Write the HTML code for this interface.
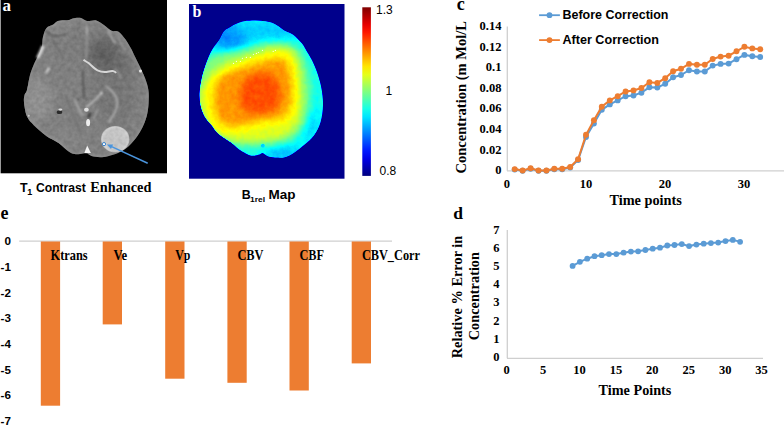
<!DOCTYPE html>
<html><head><meta charset="utf-8"><style>
html,body{margin:0;padding:0;background:#fff;width:784px;height:427px;overflow:hidden}
svg{display:block}
</style></head><body>
<svg width="784" height="427" viewBox="0 0 784 427">
<rect x="1" y="0" width="166" height="173.3" fill="#000"/>
<rect x="0" y="0" width="1" height="173.3" fill="#9a9a9a"/>
<defs><filter id="bl1" x="-20%" y="-20%" width="140%" height="140%"><feGaussianBlur stdDeviation="0.7"/></filter><filter id="bl12" x="-50%" y="-50%" width="200%" height="200%"><feGaussianBlur stdDeviation="1.1"/></filter><filter id="bl2" x="-50%" y="-50%" width="200%" height="200%"><feGaussianBlur stdDeviation="1.5"/></filter><filter id="bl3" x="-50%" y="-50%" width="200%" height="200%"><feGaussianBlur stdDeviation="3"/></filter><filter id="bl9" x="-50%" y="-50%" width="200%" height="200%"><feGaussianBlur stdDeviation="7"/></filter><filter id="bl6" x="-50%" y="-50%" width="200%" height="200%"><feGaussianBlur stdDeviation="5"/></filter><filter id="noise" filterUnits="userSpaceOnUse" x="20" y="15" width="132" height="145" color-interpolation-filters="sRGB"><feTurbulence type="fractalNoise" baseFrequency="0.22" numOctaves="2" seed="7"/><feColorMatrix type="matrix" values="1 0 0 0 0  1 0 0 0 0  1 0 0 0 0  0 0 0 0 1"/><feGaussianBlur stdDeviation="0.5"/></filter><clipPath id="brainclip"><path d="M27.0,90.0 C27.9,86.7 28.8,79.3 30.0,75.0 C31.2,70.7 32.5,67.6 34.0,64.0 C35.5,60.4 38.0,56.6 39.3,53.6 C40.6,50.6 41.4,48.3 42.0,45.7 C42.6,43.1 42.1,40.7 42.8,37.8 C43.5,34.9 44.5,30.4 46.3,28.2 C48.0,26.0 51.4,25.8 53.3,24.6 C55.2,23.4 55.9,21.8 57.7,21.1 C59.5,20.4 62.0,20.5 63.9,20.3 C65.8,20.1 67.5,20.4 69.0,20.1 C70.5,19.8 70.8,18.9 72.6,18.5 C74.4,18.1 77.6,17.4 80.0,17.8 C82.4,18.2 84.4,20.6 87.0,21.0 C89.6,21.4 92.9,19.6 95.8,20.3 C98.7,21.1 102.0,23.8 104.6,25.5 C107.2,27.2 109.3,29.8 111.6,30.8 C113.9,31.8 116.3,30.2 118.6,31.7 C120.9,33.2 123.5,36.8 125.6,39.6 C127.6,42.4 129.4,45.7 130.9,48.3 C132.4,50.9 133.0,52.5 134.4,55.4 C135.8,58.3 137.8,62.1 139.6,65.9 C141.4,69.7 143.5,74.0 145.0,78.0 C146.5,82.0 147.8,85.8 148.4,90.0 C149.0,94.2 148.8,99.0 148.6,103.0 C148.4,107.0 147.9,110.8 147.2,114.0 C146.5,117.2 145.8,119.5 144.6,122.5 C143.4,125.5 141.8,128.9 140.0,132.0 C138.2,135.1 135.8,138.3 133.5,141.0 C131.2,143.7 129.1,146.0 126.5,148.0 C123.9,150.0 121.1,151.6 118.0,153.0 C114.9,154.4 111.0,155.5 108.0,156.2 C105.0,156.9 102.8,157.2 100.0,157.2 C97.2,157.2 93.6,156.6 91.5,156.0 C89.4,155.4 88.6,154.0 87.2,153.6 C85.8,153.2 84.9,153.4 83.0,153.5 C81.1,153.6 78.3,154.6 76.0,154.3 C73.7,154.0 71.9,153.6 69.0,151.7 C66.1,149.8 62.4,145.5 58.6,142.9 C54.8,140.3 50.4,138.8 46.3,135.9 C42.2,133.0 37.2,128.6 34.0,125.4 C30.8,122.2 28.7,120.4 27.0,116.6 C25.3,112.8 24.4,106.1 24.0,102.5 C23.6,98.9 24.1,97.1 24.6,95.0 C25.1,92.9 26.1,93.3 27.0,90.0Z"/></clipPath></defs>
<path d="M27.0,90.0 C27.9,86.7 28.8,79.3 30.0,75.0 C31.2,70.7 32.5,67.6 34.0,64.0 C35.5,60.4 38.0,56.6 39.3,53.6 C40.6,50.6 41.4,48.3 42.0,45.7 C42.6,43.1 42.1,40.7 42.8,37.8 C43.5,34.9 44.5,30.4 46.3,28.2 C48.0,26.0 51.4,25.8 53.3,24.6 C55.2,23.4 55.9,21.8 57.7,21.1 C59.5,20.4 62.0,20.5 63.9,20.3 C65.8,20.1 67.5,20.4 69.0,20.1 C70.5,19.8 70.8,18.9 72.6,18.5 C74.4,18.1 77.6,17.4 80.0,17.8 C82.4,18.2 84.4,20.6 87.0,21.0 C89.6,21.4 92.9,19.6 95.8,20.3 C98.7,21.1 102.0,23.8 104.6,25.5 C107.2,27.2 109.3,29.8 111.6,30.8 C113.9,31.8 116.3,30.2 118.6,31.7 C120.9,33.2 123.5,36.8 125.6,39.6 C127.6,42.4 129.4,45.7 130.9,48.3 C132.4,50.9 133.0,52.5 134.4,55.4 C135.8,58.3 137.8,62.1 139.6,65.9 C141.4,69.7 143.5,74.0 145.0,78.0 C146.5,82.0 147.8,85.8 148.4,90.0 C149.0,94.2 148.8,99.0 148.6,103.0 C148.4,107.0 147.9,110.8 147.2,114.0 C146.5,117.2 145.8,119.5 144.6,122.5 C143.4,125.5 141.8,128.9 140.0,132.0 C138.2,135.1 135.8,138.3 133.5,141.0 C131.2,143.7 129.1,146.0 126.5,148.0 C123.9,150.0 121.1,151.6 118.0,153.0 C114.9,154.4 111.0,155.5 108.0,156.2 C105.0,156.9 102.8,157.2 100.0,157.2 C97.2,157.2 93.6,156.6 91.5,156.0 C89.4,155.4 88.6,154.0 87.2,153.6 C85.8,153.2 84.9,153.4 83.0,153.5 C81.1,153.6 78.3,154.6 76.0,154.3 C73.7,154.0 71.9,153.6 69.0,151.7 C66.1,149.8 62.4,145.5 58.6,142.9 C54.8,140.3 50.4,138.8 46.3,135.9 C42.2,133.0 37.2,128.6 34.0,125.4 C30.8,122.2 28.7,120.4 27.0,116.6 C25.3,112.8 24.4,106.1 24.0,102.5 C23.6,98.9 24.1,97.1 24.6,95.0 C25.1,92.9 26.1,93.3 27.0,90.0Z" fill="#808080" filter="url(#bl1)"/>
<g clip-path="url(#brainclip)">
<g filter="url(#bl6)">
<ellipse cx="38" cy="100" rx="14" ry="22" fill="#929292"/>
<ellipse cx="138" cy="106" rx="8" ry="24" fill="#828282"/>
<ellipse cx="60" cy="140" rx="18" ry="8" fill="#878787"/>
<ellipse cx="60" cy="28" rx="8" ry="6" fill="#8c8c8c"/>
<ellipse cx="104" cy="100" rx="7" ry="10" fill="#7c7c7c"/>
</g>
<g filter="url(#bl9)">
<ellipse cx="115" cy="95" rx="20" ry="30" fill="#747474"/>
<ellipse cx="104" cy="54" rx="16" ry="17" fill="#5a5a5a"/>
<ellipse cx="124" cy="68" rx="9" ry="10" fill="#6a6a6a"/>
<ellipse cx="76" cy="45" rx="7" ry="12" fill="#787878"/>
</g>
<rect x="20" y="15" width="132" height="145" filter="url(#noise)" opacity="0.12"/>
<path d="M27.0,90.0 C27.9,86.7 28.8,79.3 30.0,75.0 C31.2,70.7 32.5,67.6 34.0,64.0 C35.5,60.4 38.0,56.6 39.3,53.6 C40.6,50.6 41.4,48.3 42.0,45.7 C42.6,43.1 42.1,40.7 42.8,37.8 C43.5,34.9 44.5,30.4 46.3,28.2 C48.0,26.0 51.4,25.8 53.3,24.6 C55.2,23.4 55.9,21.8 57.7,21.1 C59.5,20.4 62.0,20.5 63.9,20.3 C65.8,20.1 67.5,20.4 69.0,20.1 C70.5,19.8 70.8,18.9 72.6,18.5 C74.4,18.1 77.6,17.4 80.0,17.8 C82.4,18.2 84.4,20.6 87.0,21.0 C89.6,21.4 92.9,19.6 95.8,20.3 C98.7,21.1 102.0,23.8 104.6,25.5 C107.2,27.2 109.3,29.8 111.6,30.8 C113.9,31.8 116.3,30.2 118.6,31.7 C120.9,33.2 123.5,36.8 125.6,39.6 C127.6,42.4 129.4,45.7 130.9,48.3 C132.4,50.9 133.0,52.5 134.4,55.4 C135.8,58.3 137.8,62.1 139.6,65.9 C141.4,69.7 143.5,74.0 145.0,78.0 C146.5,82.0 147.8,85.8 148.4,90.0 C149.0,94.2 148.8,99.0 148.6,103.0 C148.4,107.0 147.9,110.8 147.2,114.0 C146.5,117.2 145.8,119.5 144.6,122.5 C143.4,125.5 141.8,128.9 140.0,132.0 C138.2,135.1 135.8,138.3 133.5,141.0 C131.2,143.7 129.1,146.0 126.5,148.0 C123.9,150.0 121.1,151.6 118.0,153.0 C114.9,154.4 111.0,155.5 108.0,156.2 C105.0,156.9 102.8,157.2 100.0,157.2 C97.2,157.2 93.6,156.6 91.5,156.0 C89.4,155.4 88.6,154.0 87.2,153.6 C85.8,153.2 84.9,153.4 83.0,153.5 C81.1,153.6 78.3,154.6 76.0,154.3 C73.7,154.0 71.9,153.6 69.0,151.7 C66.1,149.8 62.4,145.5 58.6,142.9 C54.8,140.3 50.4,138.8 46.3,135.9 C42.2,133.0 37.2,128.6 34.0,125.4 C30.8,122.2 28.7,120.4 27.0,116.6 C25.3,112.8 24.4,106.1 24.0,102.5 C23.6,98.9 24.1,97.1 24.6,95.0 C25.1,92.9 26.1,93.3 27.0,90.0Z" fill="none" stroke="#a0a0a0" stroke-width="3" filter="url(#bl2)" opacity="0.5"/>
<g filter="url(#bl12)" fill="none" stroke-linecap="round">
<path d="M86.5,24 C87,35 87,48 86,58" stroke="#8e8e8e" stroke-width="2.4"/>
<path d="M87,27 L87,34" stroke="#b0b0b0" stroke-width="1.6"/>
<path d="M46,31 C50,35 52,36 55,36 C60,36 63,35 65.6,34.3" stroke="#5e5e5e" stroke-width="1.8"/>
<path d="M51.6,37.8 C55,45 60,52 64,59" stroke="#6a6a6a" stroke-width="1.6"/>
<path d="M108,30 C110,35 112,39 115,43" stroke="#a8a8a8" stroke-width="2"/>
<path d="M118,36 C120,42 122,46 125,50" stroke="#9a9a9a" stroke-width="1.8"/>
<path d="M101.6,92.9 C98,97 95,100 91,103.4 C89,105 88,106 87,107" stroke="#b4b4b4" stroke-width="2"/>
<circle cx="101.4" cy="93.1" r="1.5" fill="#d0d0d0" stroke="none"/>
<path d="M74.7,99.9 C77,105 79,109 80.5,111.6 C81.5,113 82,114 82.9,115" stroke="#a8a8a8" stroke-width="1.8"/>
<path d="M98,109 C96,113 95,116 93.4,118.6" stroke="#a0a0a0" stroke-width="1.5"/>
<path d="M89.9,113.9 L88.5,117" stroke="#404040" stroke-width="3"/>
<circle cx="78.2" cy="99.9" r="1.2" fill="#4a4a4a" stroke="none"/>
<circle cx="86.4" cy="98.7" r="1" fill="#505050" stroke="none"/>
<path d="M106.7,86.7 C111,90 115,94 116.7,98.4 C118,103 117,108 114.9,112.5 C113,116 111,119 109,121.8" stroke="#a8a8a8" stroke-width="2.2"/>
<path d="M65.6,95.5 C70,108 76,122 81.4,134" stroke="#6e6e6e" stroke-width="1.4"/>
<path d="M115,69.7 C118,72 120,75 120.7,78" stroke="#a0a0a0" stroke-width="1.4"/>
<path d="M82.9,72 C83.2,85 83.6,92 84,97.5" stroke="#555" stroke-width="1.8"/>
</g>
</g>
<g filter="url(#bl1)">
<path d="M83.5,59.7 C85,61 87,62 88.8,63.2 C92,66 95,69 97.5,70.3 C100,71.5 102,72 104.6,72 C108,72 111,70.5 113.3,71.1 C114.5,71.5 115.5,72 116,72.9" stroke="#d6d6d6" stroke-width="2" fill="none"/>
<path d="M43,46 C41.5,50 40,54 37.5,58" stroke="#d8d8d8" stroke-width="3.2" fill="none" filter="url(#bl12)"/>
<path d="M49.5,67.8 C48,69.5 47,71 46,73" stroke="#d0d0d0" stroke-width="2.2" fill="none" filter="url(#bl12)"/>
<circle cx="140.5" cy="71.1" r="1.5" fill="#e8e8e8"/>
<circle cx="28.8" cy="115.7" r="1" fill="#c8c8c8"/>
<path d="M84.3,153 L87.2,145.6 L90.9,153 Z" fill="#f4f4f4"/>
<ellipse cx="88.1" cy="122.7" rx="2" ry="3.6" fill="#eeeeee"/>
<ellipse cx="86.4" cy="109.8" rx="2.4" ry="2" fill="#e0e0e0"/>
<ellipse cx="59.5" cy="112.2" rx="2.8" ry="1.9" fill="#2a2a2a"/>
<ellipse cx="60.4" cy="109.6" rx="2" ry="1.1" fill="#dcdcdc"/>
</g>
<path d="M87.2,153.6 L84.5,157 L90,157 Z" fill="#000"/>
<defs><radialGradient id="tum" cx="0.5" cy="0.5" r="0.5"><stop offset="0" stop-color="#cdcdcd"/><stop offset="0.75" stop-color="#d0d0d0"/><stop offset="0.92" stop-color="#dadada"/><stop offset="1" stop-color="#bcbcbc"/></radialGradient></defs>
<ellipse cx="115.2" cy="139.2" rx="14.2" ry="13.2" fill="url(#tum)" filter="url(#bl1)"/>
<defs><clipPath id="tumclip"><ellipse cx="115.2" cy="139.2" rx="14" ry="13"/></clipPath></defs>
<rect x="100" y="125" width="30" height="30" filter="url(#noise)" opacity="0.13" clip-path="url(#tumclip)"/>
<line x1="147.7" y1="163.2" x2="110" y2="145.9" stroke="#4a94dc" stroke-width="1.5"/>
<path d="M106.9,144.5 L113.1,144.6 L111,149.1 Z" fill="#4a94dc"/>
<circle cx="104" cy="144.1" r="1.6" fill="#fff" stroke="#3a84cc" stroke-width="1"/>
<text x="2.6" y="11" font-family="Liberation Serif" font-weight="bold" font-size="17" fill="#fff">a</text>
<text x="20" y="191.7" font-family="Liberation Sans" font-weight="bold" font-size="12.4" fill="#000">T</text>
<text x="27.2" y="194.6" font-family="Liberation Sans" font-weight="bold" font-size="9" fill="#000">1</text>
<text x="36" y="191.7" font-family="Liberation Sans" font-weight="bold" font-size="12.4" textLength="49.8" lengthAdjust="spacingAndGlyphs" fill="#000">Contrast</text>
<text x="90.2" y="191.6" font-family="Liberation Serif" font-weight="bold" font-size="13.6" textLength="61.2" lengthAdjust="spacingAndGlyphs" fill="#000">Enhanced</text>
<defs><clipPath id="mapclip"><path d="M219.6,39.6 C221.6,36.5 222.2,33.5 224.0,31.5 C225.8,29.4 228.2,28.6 230.2,27.3 C232.2,26.1 233.7,25.0 236.0,24.0 C238.3,23.0 241.0,21.9 244.2,21.3 C247.4,20.7 251.5,20.6 255.0,20.6 C258.5,20.6 262.0,20.7 265.3,21.3 C268.6,21.9 271.7,22.6 275.0,24.2 C278.3,25.8 281.9,29.2 285.0,31.0 C288.1,32.8 290.6,32.9 293.4,34.9 C296.2,36.9 299.5,40.5 301.8,43.3 C304.1,46.1 305.3,48.9 307.0,51.7 C308.7,54.5 310.3,56.8 312.0,60.2 C313.7,63.6 315.4,67.4 317.0,72.0 C318.6,76.6 320.4,82.5 321.4,88.0 C322.4,93.5 323.1,99.3 323.0,104.9 C322.9,110.5 322.1,116.7 320.6,121.7 C319.1,126.8 316.8,131.3 314.0,135.2 C311.2,139.1 307.7,141.9 304.0,145.0 C300.3,148.1 295.2,152.0 292.0,154.0 C288.8,156.0 287.2,156.6 284.7,157.2 C282.2,157.8 279.7,157.7 277.1,157.6 C274.6,157.5 271.4,157.3 269.4,156.8 C267.4,156.3 266.1,155.1 265.0,154.5 C263.9,153.9 263.4,153.0 262.5,153.0 C261.6,153.0 260.9,154.1 259.5,154.5 C258.1,154.9 255.9,155.6 254.1,155.7 C252.3,155.8 250.7,155.6 248.8,154.9 C246.9,154.2 244.5,152.9 242.7,151.8 C240.9,150.8 239.8,150.1 238.0,148.6 C236.2,147.1 235.0,145.5 231.7,143.0 C228.4,140.5 221.6,136.5 218.2,133.5 C214.8,130.5 213.8,127.8 211.5,125.0 C209.2,122.2 206.5,120.0 204.7,116.6 C202.9,113.2 201.3,108.9 200.5,104.8 C199.7,100.7 199.6,96.1 199.8,92.0 C200.0,87.9 200.8,83.7 201.5,80.0 C202.2,76.3 203.0,73.3 204.0,70.0 C205.0,66.7 206.2,63.3 207.5,60.0 C208.8,56.7 210.0,53.4 212.0,50.0 C214.0,46.6 217.6,42.7 219.6,39.6Z"/></clipPath><filter id="jetf" x="0" y="0" width="100%" height="100%" color-interpolation-filters="sRGB" filterUnits="userSpaceOnUse"><feComponentTransfer><feFuncR type="table" tableValues="0 0 0 0 0.5 1 1 1 0.5"/><feFuncG type="table" tableValues="0 0 0.5 1 1 1 0.5 0 0"/><feFuncB type="table" tableValues="0.55 1 1 1 0.5 0 0 0 0"/></feComponentTransfer></filter><filter id="hb" x="-50%" y="-50%" width="200%" height="200%" color-interpolation-filters="sRGB"><feGaussianBlur stdDeviation="6"/></filter><filter id="noise2" filterUnits="userSpaceOnUse" x="195" y="15" width="135" height="150" color-interpolation-filters="sRGB"><feTurbulence type="fractalNoise" baseFrequency="0.2" numOctaves="2" seed="3"/><feColorMatrix type="matrix" values="1 0 0 0 0  1 0 0 0 0  1 0 0 0 0  0 0 0 0 1"/></filter><filter id="hb2" x="-50%" y="-50%" width="200%" height="200%" color-interpolation-filters="sRGB"><feGaussianBlur stdDeviation="3"/></filter></defs>
<g filter="url(#jetf)">
<rect x="189" y="4" width="155.5" height="174.7" fill="#000"/>
<g clip-path="url(#mapclip)">
<rect x="190" y="10" width="150" height="160" fill="#656565"/>
<g filter="url(#hb)">
<ellipse cx="230" cy="36" rx="20" ry="15" fill="#404040"/>
<ellipse cx="268" cy="30" rx="36" ry="10" fill="#505050"/>
<ellipse cx="285" cy="155" rx="22" ry="8" fill="#4c4c4c"/>
<ellipse cx="312" cy="128" rx="12" ry="18" fill="#575757"/>
</g>
<g filter="url(#hb2)">
<path d="M196.0,84.0 C198.3,75.3 202.7,63.7 210.0,58.0 C217.3,52.3 230.0,52.5 240.0,50.0 C250.0,47.5 261.0,43.7 270.0,43.0 C279.0,42.3 288.0,42.5 294.0,46.0 C300.0,49.5 303.3,55.8 306.0,64.0 C308.7,72.2 310.2,85.0 310.0,95.0 C309.8,105.0 308.3,116.5 305.0,124.0 C301.7,131.5 297.2,136.3 290.0,140.0 C282.8,143.7 271.0,145.2 262.0,146.0 C253.0,146.8 244.7,147.0 236.0,145.0 C227.3,143.0 216.7,139.8 210.0,134.0 C203.3,128.2 198.3,118.3 196.0,110.0 C193.7,101.7 193.7,92.7 196.0,84.0Z" fill="#818181"/>
<path d="M203.0,86.0 C206.2,79.0 213.0,70.8 220.0,66.0 C227.0,61.2 235.3,60.2 245.0,57.0 C254.7,53.8 269.5,47.2 278.0,47.0 C286.5,46.8 292.0,48.0 296.0,56.0 C300.0,64.0 301.8,83.7 302.0,95.0 C302.2,106.3 300.5,117.0 297.0,124.0 C293.5,131.0 287.5,134.2 281.0,137.0 C274.5,139.8 266.2,140.5 258.0,141.0 C249.8,141.5 239.7,141.7 232.0,140.0 C224.3,138.3 217.2,136.3 212.0,131.0 C206.8,125.7 202.5,115.5 201.0,108.0 C199.5,100.5 199.8,93.0 203.0,86.0Z" fill="#999999"/>
<path d="M210.0,82.0 C216.2,75.0 232.3,65.8 244.0,61.0 C255.7,56.2 271.7,52.5 280.0,53.0 C288.3,53.5 291.2,56.7 294.0,64.0 C296.8,71.3 297.7,87.7 297.0,97.0 C296.3,106.3 296.2,115.0 290.0,120.0 C283.8,125.0 269.2,125.0 260.0,127.0 C250.8,129.0 242.5,132.0 235.0,132.0 C227.5,132.0 219.7,131.8 215.0,127.0 C210.3,122.2 207.8,110.5 207.0,103.0 C206.2,95.5 203.8,89.0 210.0,82.0Z" fill="#a7a7a7"/>
<path d="M220.8,78.4 C226.0,72.8 236.6,71.0 246.5,68.0 C256.4,65.0 273.1,59.9 280.0,60.3 C286.9,60.7 286.1,64.6 287.8,70.6 C289.5,76.6 291.3,89.1 290.4,96.4 C289.5,103.7 287.8,110.5 282.6,114.4 C277.4,118.3 267.1,117.9 259.4,119.6 C251.7,121.3 242.6,124.7 236.2,124.7 C229.8,124.7 224.2,123.5 220.8,119.6 C217.4,115.7 215.6,108.4 215.6,101.5 C215.6,94.6 215.7,84.0 220.8,78.4Z" fill="#bdbdbd"/>
<path d="M245.0,80.0 C249.2,75.3 259.7,72.8 265.0,73.0 C270.3,73.2 274.5,76.7 277.0,81.0 C279.5,85.3 281.0,94.0 280.0,99.0 C279.0,104.0 276.0,108.7 271.0,111.0 C266.0,113.3 255.2,114.7 250.0,113.0 C244.8,111.3 240.8,106.5 240.0,101.0 C239.2,95.5 240.8,84.7 245.0,80.0Z" fill="#cfcfcf"/>
</g>
<circle cx="262.9" cy="145.7" r="2" fill="#545454" filter="url(#bl1)"/>
<rect x="195" y="15" width="135" height="150" filter="url(#noise2)" opacity="0.045"/>
</g>
</g>
<circle cx="233.5" cy="63.4" r="0.6" fill="#fff" opacity="0.9"/><circle cx="236.4" cy="61.4" r="0.6" fill="#fff" opacity="0.9"/><circle cx="240.4" cy="61.4" r="0.6" fill="#fff" opacity="0.9"/><circle cx="242.4" cy="58.3" r="0.6" fill="#fff" opacity="0.9"/><circle cx="246.4" cy="57.4" r="0.6" fill="#fff" opacity="0.9"/><circle cx="250.4" cy="57.4" r="0.6" fill="#fff" opacity="0.9"/><circle cx="253.4" cy="54.3" r="0.6" fill="#fff" opacity="0.9"/><circle cx="256.4" cy="53.4" r="0.6" fill="#fff" opacity="0.9"/><circle cx="258.5" cy="52.5" r="0.6" fill="#fff" opacity="0.9"/><circle cx="262.5" cy="50.4" r="0.6" fill="#fff" opacity="0.9"/><circle cx="273.2" cy="51.4" r="0.6" fill="#fff" opacity="0.9"/><circle cx="275.4" cy="50.4" r="0.6" fill="#fff" opacity="0.9"/>
<text x="192.6" y="17.1" font-family="Liberation Serif" font-weight="bold" font-size="16" fill="#fff">b</text>
<defs><linearGradient id="jetg" x1="0" y1="0" x2="0" y2="1"><stop offset="0.000" stop-color="#7f0000"/><stop offset="0.050" stop-color="#b20000"/><stop offset="0.100" stop-color="#e50000"/><stop offset="0.150" stop-color="#ff1900"/><stop offset="0.200" stop-color="#ff4c00"/><stop offset="0.250" stop-color="#ff7f00"/><stop offset="0.300" stop-color="#ffb200"/><stop offset="0.350" stop-color="#ffe500"/><stop offset="0.400" stop-color="#e5ff19"/><stop offset="0.450" stop-color="#b2ff4c"/><stop offset="0.500" stop-color="#7fff7f"/><stop offset="0.550" stop-color="#4cffb2"/><stop offset="0.600" stop-color="#19ffe5"/><stop offset="0.650" stop-color="#00e5ff"/><stop offset="0.700" stop-color="#00b2ff"/><stop offset="0.750" stop-color="#007fff"/><stop offset="0.800" stop-color="#004cff"/><stop offset="0.850" stop-color="#0019ff"/><stop offset="0.900" stop-color="#0000e5"/><stop offset="0.950" stop-color="#0000b2"/><stop offset="1.000" stop-color="#00007f"/></linearGradient></defs>
<rect x="362.3" y="7.3" width="8.6" height="168.6" fill="url(#jetg)"/>
<text x="376" y="14" font-family="Liberation Sans" font-size="12" fill="#000">1.3</text>
<text x="385.5" y="95.2" font-family="Liberation Sans" font-size="12" fill="#000">1</text>
<text x="379.5" y="175" font-family="Liberation Sans" font-size="12" fill="#000">0.8</text>
<text x="241.7" y="198.6" font-family="Liberation Sans" font-weight="bold" font-size="12.4" fill="#000">B</text>
<text x="250" y="201.5" font-family="Liberation Sans" font-weight="bold" font-size="8" textLength="15" lengthAdjust="spacingAndGlyphs" fill="#000">1rel</text>
<text x="268.5" y="198.6" font-family="Liberation Sans" font-weight="bold" font-size="12.4" textLength="27" lengthAdjust="spacingAndGlyphs" fill="#000">Map</text>
<text x="456.8" y="10.4" font-family="Liberation Serif" font-weight="bold" font-size="18" fill="#000">c</text>
<line x1="507.3" y1="26.5" x2="507.3" y2="170.8" stroke="#CFCFCF" stroke-width="1.3"/>
<line x1="507" y1="170.8" x2="784" y2="170.8" stroke="#CFCFCF" stroke-width="1.3"/>
<text x="501.4" y="30.1" font-family="Liberation Serif" font-weight="bold" font-size="12.5" text-anchor="end" fill="#000">0.14</text>
<text x="501.4" y="50.7" font-family="Liberation Serif" font-weight="bold" font-size="12.5" text-anchor="end" fill="#000">0.12</text>
<text x="501.4" y="71.2" font-family="Liberation Serif" font-weight="bold" font-size="12.5" text-anchor="end" fill="#000">0.1</text>
<text x="501.4" y="91.8" font-family="Liberation Serif" font-weight="bold" font-size="12.5" text-anchor="end" fill="#000">0.08</text>
<text x="501.4" y="112.4" font-family="Liberation Serif" font-weight="bold" font-size="12.5" text-anchor="end" fill="#000">0.06</text>
<text x="501.4" y="133.0" font-family="Liberation Serif" font-weight="bold" font-size="12.5" text-anchor="end" fill="#000">0.04</text>
<text x="501.4" y="153.5" font-family="Liberation Serif" font-weight="bold" font-size="12.5" text-anchor="end" fill="#000">0.02</text>
<text x="501.4" y="174.1" font-family="Liberation Serif" font-weight="bold" font-size="12.5" text-anchor="end" fill="#000">0</text>
<text x="506.8" y="188.4" font-family="Liberation Serif" font-weight="bold" font-size="12.5" text-anchor="middle" fill="#000">0</text>
<text x="585.9" y="188.4" font-family="Liberation Serif" font-weight="bold" font-size="12.5" text-anchor="middle" fill="#000">10</text>
<text x="665.0" y="188.4" font-family="Liberation Serif" font-weight="bold" font-size="12.5" text-anchor="middle" fill="#000">20</text>
<text x="744.1" y="188.4" font-family="Liberation Serif" font-weight="bold" font-size="12.5" text-anchor="middle" fill="#000">30</text>
<text x="609.4" y="205.3" font-family="Liberation Serif" font-weight="bold" font-size="14.2" textLength="72.5" lengthAdjust="spacingAndGlyphs" fill="#000">Time points</text>
<text transform="translate(466.4,173.5) rotate(-90)" font-family="Liberation Serif" font-weight="bold" font-size="14.3" textLength="152.4" lengthAdjust="spacingAndGlyphs" fill="#000">Concentration (m Mol/L</text>
<polyline points="514.7,169.6 522.6,170.8 530.6,168.8 538.5,170.8 546.4,170.8 554.3,169.3 562.2,169.3 570.2,167.6 578.1,160.0 586.0,137.0 593.9,123.6 601.8,109.8 609.8,104.4 617.7,100.4 625.6,96.2 633.5,95.5 641.4,92.7 649.4,87.3 657.3,87.5 665.2,83.8 673.1,77.3 681.0,75.0 689.0,70.2 696.9,71.5 704.8,71.5 712.7,65.6 720.6,63.9 728.6,63.6 736.5,59.2 744.4,54.9 752.3,56.2 760.2,57.0" fill="none" stroke="#5B9BD5" stroke-width="2.0"/><circle cx="514.7" cy="169.6" r="2.95" fill="#5B9BD5"/><circle cx="522.6" cy="170.8" r="2.95" fill="#5B9BD5"/><circle cx="530.6" cy="168.8" r="2.95" fill="#5B9BD5"/><circle cx="538.5" cy="170.8" r="2.95" fill="#5B9BD5"/><circle cx="546.4" cy="170.8" r="2.95" fill="#5B9BD5"/><circle cx="554.3" cy="169.3" r="2.95" fill="#5B9BD5"/><circle cx="562.2" cy="169.3" r="2.95" fill="#5B9BD5"/><circle cx="570.2" cy="167.6" r="2.95" fill="#5B9BD5"/><circle cx="578.1" cy="160.0" r="2.95" fill="#5B9BD5"/><circle cx="586.0" cy="137.0" r="2.95" fill="#5B9BD5"/><circle cx="593.9" cy="123.6" r="2.95" fill="#5B9BD5"/><circle cx="601.8" cy="109.8" r="2.95" fill="#5B9BD5"/><circle cx="609.8" cy="104.4" r="2.95" fill="#5B9BD5"/><circle cx="617.7" cy="100.4" r="2.95" fill="#5B9BD5"/><circle cx="625.6" cy="96.2" r="2.95" fill="#5B9BD5"/><circle cx="633.5" cy="95.5" r="2.95" fill="#5B9BD5"/><circle cx="641.4" cy="92.7" r="2.95" fill="#5B9BD5"/><circle cx="649.4" cy="87.3" r="2.95" fill="#5B9BD5"/><circle cx="657.3" cy="87.5" r="2.95" fill="#5B9BD5"/><circle cx="665.2" cy="83.8" r="2.95" fill="#5B9BD5"/><circle cx="673.1" cy="77.3" r="2.95" fill="#5B9BD5"/><circle cx="681.0" cy="75.0" r="2.95" fill="#5B9BD5"/><circle cx="689.0" cy="70.2" r="2.95" fill="#5B9BD5"/><circle cx="696.9" cy="71.5" r="2.95" fill="#5B9BD5"/><circle cx="704.8" cy="71.5" r="2.95" fill="#5B9BD5"/><circle cx="712.7" cy="65.6" r="2.95" fill="#5B9BD5"/><circle cx="720.6" cy="63.9" r="2.95" fill="#5B9BD5"/><circle cx="728.6" cy="63.6" r="2.95" fill="#5B9BD5"/><circle cx="736.5" cy="59.2" r="2.95" fill="#5B9BD5"/><circle cx="744.4" cy="54.9" r="2.95" fill="#5B9BD5"/><circle cx="752.3" cy="56.2" r="2.95" fill="#5B9BD5"/><circle cx="760.2" cy="57.0" r="2.95" fill="#5B9BD5"/>
<polyline points="514.7,169.1 522.6,170.5 530.6,168.2 538.5,170.5 546.4,170.5 554.3,168.8 562.2,168.8 570.2,167.0 578.1,159.3 586.0,134.8 593.9,120.3 601.8,106.7 609.8,100.4 617.7,96.2 625.6,91.5 633.5,90.4 641.4,88.0 649.4,82.2 657.3,82.9 665.2,78.2 673.1,71.2 681.0,68.8 689.0,63.9 696.9,64.8 704.8,64.8 712.7,59.0 720.6,56.6 728.6,55.7 736.5,51.3 744.4,46.7 752.3,48.4 760.2,49.3" fill="none" stroke="#ED7D31" stroke-width="2.0"/><circle cx="514.7" cy="169.1" r="2.95" fill="#ED7D31"/><circle cx="522.6" cy="170.5" r="2.95" fill="#ED7D31"/><circle cx="530.6" cy="168.2" r="2.95" fill="#ED7D31"/><circle cx="538.5" cy="170.5" r="2.95" fill="#ED7D31"/><circle cx="546.4" cy="170.5" r="2.95" fill="#ED7D31"/><circle cx="554.3" cy="168.8" r="2.95" fill="#ED7D31"/><circle cx="562.2" cy="168.8" r="2.95" fill="#ED7D31"/><circle cx="570.2" cy="167.0" r="2.95" fill="#ED7D31"/><circle cx="578.1" cy="159.3" r="2.95" fill="#ED7D31"/><circle cx="586.0" cy="134.8" r="2.95" fill="#ED7D31"/><circle cx="593.9" cy="120.3" r="2.95" fill="#ED7D31"/><circle cx="601.8" cy="106.7" r="2.95" fill="#ED7D31"/><circle cx="609.8" cy="100.4" r="2.95" fill="#ED7D31"/><circle cx="617.7" cy="96.2" r="2.95" fill="#ED7D31"/><circle cx="625.6" cy="91.5" r="2.95" fill="#ED7D31"/><circle cx="633.5" cy="90.4" r="2.95" fill="#ED7D31"/><circle cx="641.4" cy="88.0" r="2.95" fill="#ED7D31"/><circle cx="649.4" cy="82.2" r="2.95" fill="#ED7D31"/><circle cx="657.3" cy="82.9" r="2.95" fill="#ED7D31"/><circle cx="665.2" cy="78.2" r="2.95" fill="#ED7D31"/><circle cx="673.1" cy="71.2" r="2.95" fill="#ED7D31"/><circle cx="681.0" cy="68.8" r="2.95" fill="#ED7D31"/><circle cx="689.0" cy="63.9" r="2.95" fill="#ED7D31"/><circle cx="696.9" cy="64.8" r="2.95" fill="#ED7D31"/><circle cx="704.8" cy="64.8" r="2.95" fill="#ED7D31"/><circle cx="712.7" cy="59.0" r="2.95" fill="#ED7D31"/><circle cx="720.6" cy="56.6" r="2.95" fill="#ED7D31"/><circle cx="728.6" cy="55.7" r="2.95" fill="#ED7D31"/><circle cx="736.5" cy="51.3" r="2.95" fill="#ED7D31"/><circle cx="744.4" cy="46.7" r="2.95" fill="#ED7D31"/><circle cx="752.3" cy="48.4" r="2.95" fill="#ED7D31"/><circle cx="760.2" cy="49.3" r="2.95" fill="#ED7D31"/>
<line x1="539.1" y1="15.2" x2="559.9" y2="15.2" stroke="#5B9BD5" stroke-width="1.8"/><circle cx="549.5" cy="15.2" r="2.9" fill="#5B9BD5"/>
<line x1="539.1" y1="40.1" x2="559.9" y2="40.1" stroke="#ED7D31" stroke-width="1.8"/><circle cx="549.5" cy="40.1" r="2.9" fill="#ED7D31"/>
<text x="562.5" y="19" font-family="Liberation Sans" font-weight="bold" font-size="13.2" textLength="106" lengthAdjust="spacingAndGlyphs" fill="#000">Before Correction</text>
<text x="562.5" y="44.4" font-family="Liberation Sans" font-weight="bold" font-size="13.2" textLength="96.5" lengthAdjust="spacingAndGlyphs" fill="#000">After Correction</text>
<text x="453.2" y="218.9" font-family="Liberation Serif" font-weight="bold" font-size="17.5" fill="#000">d</text>
<line x1="507.3" y1="230" x2="507.3" y2="358.3" stroke="#CFCFCF" stroke-width="1.3"/>
<line x1="507" y1="358.3" x2="763" y2="358.3" stroke="#CFCFCF" stroke-width="1.3"/>
<text x="499.5" y="360.9" font-family="Liberation Serif" font-weight="bold" font-size="12.5" text-anchor="end" fill="#000">0</text>
<text x="499.5" y="342.7" font-family="Liberation Serif" font-weight="bold" font-size="12.5" text-anchor="end" fill="#000">1</text>
<text x="499.5" y="324.5" font-family="Liberation Serif" font-weight="bold" font-size="12.5" text-anchor="end" fill="#000">2</text>
<text x="499.5" y="306.3" font-family="Liberation Serif" font-weight="bold" font-size="12.5" text-anchor="end" fill="#000">3</text>
<text x="499.5" y="288.1" font-family="Liberation Serif" font-weight="bold" font-size="12.5" text-anchor="end" fill="#000">4</text>
<text x="499.5" y="269.9" font-family="Liberation Serif" font-weight="bold" font-size="12.5" text-anchor="end" fill="#000">5</text>
<text x="499.5" y="251.7" font-family="Liberation Serif" font-weight="bold" font-size="12.5" text-anchor="end" fill="#000">6</text>
<text x="499.5" y="233.5" font-family="Liberation Serif" font-weight="bold" font-size="12.5" text-anchor="end" fill="#000">7</text>
<text x="506.6" y="374.4" font-family="Liberation Serif" font-weight="bold" font-size="12.5" text-anchor="middle" fill="#000">0</text>
<text x="543.0" y="374.4" font-family="Liberation Serif" font-weight="bold" font-size="12.5" text-anchor="middle" fill="#000">5</text>
<text x="579.5" y="374.4" font-family="Liberation Serif" font-weight="bold" font-size="12.5" text-anchor="middle" fill="#000">10</text>
<text x="615.9" y="374.4" font-family="Liberation Serif" font-weight="bold" font-size="12.5" text-anchor="middle" fill="#000">15</text>
<text x="652.3" y="374.4" font-family="Liberation Serif" font-weight="bold" font-size="12.5" text-anchor="middle" fill="#000">20</text>
<text x="688.8" y="374.4" font-family="Liberation Serif" font-weight="bold" font-size="12.5" text-anchor="middle" fill="#000">25</text>
<text x="725.2" y="374.4" font-family="Liberation Serif" font-weight="bold" font-size="12.5" text-anchor="middle" fill="#000">30</text>
<text x="761.6" y="374.4" font-family="Liberation Serif" font-weight="bold" font-size="12.5" text-anchor="middle" fill="#000">35</text>
<text x="598.6" y="394.5" font-family="Liberation Serif" font-weight="bold" font-size="14.2" textLength="72.8" lengthAdjust="spacingAndGlyphs" fill="#000">Time Points</text>
<text transform="translate(461.5,358.3) rotate(-90)" font-family="Liberation Serif" font-weight="bold" font-size="14.3" textLength="122.6" lengthAdjust="spacingAndGlyphs" fill="#000">Relative % Error in</text>
<text transform="translate(478.7,340.3) rotate(-90)" font-family="Liberation Serif" font-weight="bold" font-size="14.3" textLength="88.3" lengthAdjust="spacingAndGlyphs" fill="#000">Concentration</text>
<polyline points="572.6,265.9 579.9,261.8 587.2,258.7 594.5,256.2 601.7,255.2 609.0,254.1 616.3,254.1 623.6,252.7 630.9,251.6 638.1,251.3 645.4,250.0 652.7,248.7 660.0,247.7 667.3,245.5 674.5,245.0 681.8,244.1 689.1,246.1 696.4,244.6 703.7,243.7 710.9,243.1 718.2,242.6 725.5,241.1 732.8,239.9 740.1,241.8" fill="none" stroke="#5B9BD5" stroke-width="2"/>
<circle cx="572.6" cy="265.9" r="2.9" fill="#5B9BD5"/><circle cx="579.9" cy="261.8" r="2.9" fill="#5B9BD5"/><circle cx="587.2" cy="258.7" r="2.9" fill="#5B9BD5"/><circle cx="594.5" cy="256.2" r="2.9" fill="#5B9BD5"/><circle cx="601.7" cy="255.2" r="2.9" fill="#5B9BD5"/><circle cx="609.0" cy="254.1" r="2.9" fill="#5B9BD5"/><circle cx="616.3" cy="254.1" r="2.9" fill="#5B9BD5"/><circle cx="623.6" cy="252.7" r="2.9" fill="#5B9BD5"/><circle cx="630.9" cy="251.6" r="2.9" fill="#5B9BD5"/><circle cx="638.1" cy="251.3" r="2.9" fill="#5B9BD5"/><circle cx="645.4" cy="250.0" r="2.9" fill="#5B9BD5"/><circle cx="652.7" cy="248.7" r="2.9" fill="#5B9BD5"/><circle cx="660.0" cy="247.7" r="2.9" fill="#5B9BD5"/><circle cx="667.3" cy="245.5" r="2.9" fill="#5B9BD5"/><circle cx="674.5" cy="245.0" r="2.9" fill="#5B9BD5"/><circle cx="681.8" cy="244.1" r="2.9" fill="#5B9BD5"/><circle cx="689.1" cy="246.1" r="2.9" fill="#5B9BD5"/><circle cx="696.4" cy="244.6" r="2.9" fill="#5B9BD5"/><circle cx="703.7" cy="243.7" r="2.9" fill="#5B9BD5"/><circle cx="710.9" cy="243.1" r="2.9" fill="#5B9BD5"/><circle cx="718.2" cy="242.6" r="2.9" fill="#5B9BD5"/><circle cx="725.5" cy="241.1" r="2.9" fill="#5B9BD5"/><circle cx="732.8" cy="239.9" r="2.9" fill="#5B9BD5"/><circle cx="740.1" cy="241.8" r="2.9" fill="#5B9BD5"/>
<text x="0.5" y="218.9" font-family="Liberation Serif" font-weight="bold" font-size="18" fill="#000">e</text>
<line x1="19.2" y1="241.2" x2="392" y2="241.2" stroke="#CFCFCF" stroke-width="1.3"/>
<text transform="translate(10.9,245.1) scale(1.08,1)" font-family="Liberation Sans" font-weight="bold" font-size="10.8" text-anchor="end" fill="#000">0</text>
<text transform="translate(10.9,270.8) scale(1.08,1)" font-family="Liberation Sans" font-weight="bold" font-size="10.8" text-anchor="end" fill="#000">-1</text>
<text transform="translate(10.9,296.5) scale(1.08,1)" font-family="Liberation Sans" font-weight="bold" font-size="10.8" text-anchor="end" fill="#000">-2</text>
<text transform="translate(10.9,322.3) scale(1.08,1)" font-family="Liberation Sans" font-weight="bold" font-size="10.8" text-anchor="end" fill="#000">-3</text>
<text transform="translate(10.9,348.0) scale(1.08,1)" font-family="Liberation Sans" font-weight="bold" font-size="10.8" text-anchor="end" fill="#000">-4</text>
<text transform="translate(10.9,373.7) scale(1.08,1)" font-family="Liberation Sans" font-weight="bold" font-size="10.8" text-anchor="end" fill="#000">-5</text>
<text transform="translate(10.9,399.4) scale(1.08,1)" font-family="Liberation Sans" font-weight="bold" font-size="10.8" text-anchor="end" fill="#000">-6</text>
<text transform="translate(10.9,425.1) scale(1.08,1)" font-family="Liberation Sans" font-weight="bold" font-size="10.8" text-anchor="end" fill="#000">-7</text>
<rect x="40.8" y="241.5" width="19.3" height="164.2" fill="#ED7D31"/>
<rect x="102.7" y="241.5" width="19.3" height="82.9" fill="#ED7D31"/>
<rect x="165.2" y="241.5" width="19.3" height="137.2" fill="#ED7D31"/>
<rect x="227.4" y="241.5" width="19.3" height="141.3" fill="#ED7D31"/>
<rect x="289.5" y="241.5" width="19.3" height="149.0" fill="#ED7D31"/>
<rect x="351.7" y="241.5" width="19.3" height="121.9" fill="#ED7D31"/>
<text x="50.6" y="260.3" font-family="Liberation Serif" font-weight="bold" font-size="13.6" textLength="37" lengthAdjust="spacingAndGlyphs" fill="#000">Ktrans</text>
<text x="113.5" y="260.3" font-family="Liberation Serif" font-weight="bold" font-size="13.6" textLength="13.6" lengthAdjust="spacingAndGlyphs" fill="#000">Ve</text>
<text x="175.3" y="260.3" font-family="Liberation Serif" font-weight="bold" font-size="13.6" textLength="15.1" lengthAdjust="spacingAndGlyphs" fill="#000">Vp</text>
<text x="237.4" y="260.3" font-family="Liberation Serif" font-weight="bold" font-size="13.6" textLength="26.1" lengthAdjust="spacingAndGlyphs" fill="#000">CBV</text>
<text x="299.5" y="260.3" font-family="Liberation Serif" font-weight="bold" font-size="13.6" textLength="24.5" lengthAdjust="spacingAndGlyphs" fill="#000">CBF</text>
<text x="361.9" y="260.3" font-family="Liberation Serif" font-weight="bold" font-size="13.6" textLength="58.1" lengthAdjust="spacingAndGlyphs" fill="#000">CBV_Corr</text>
</svg>
</body></html>
